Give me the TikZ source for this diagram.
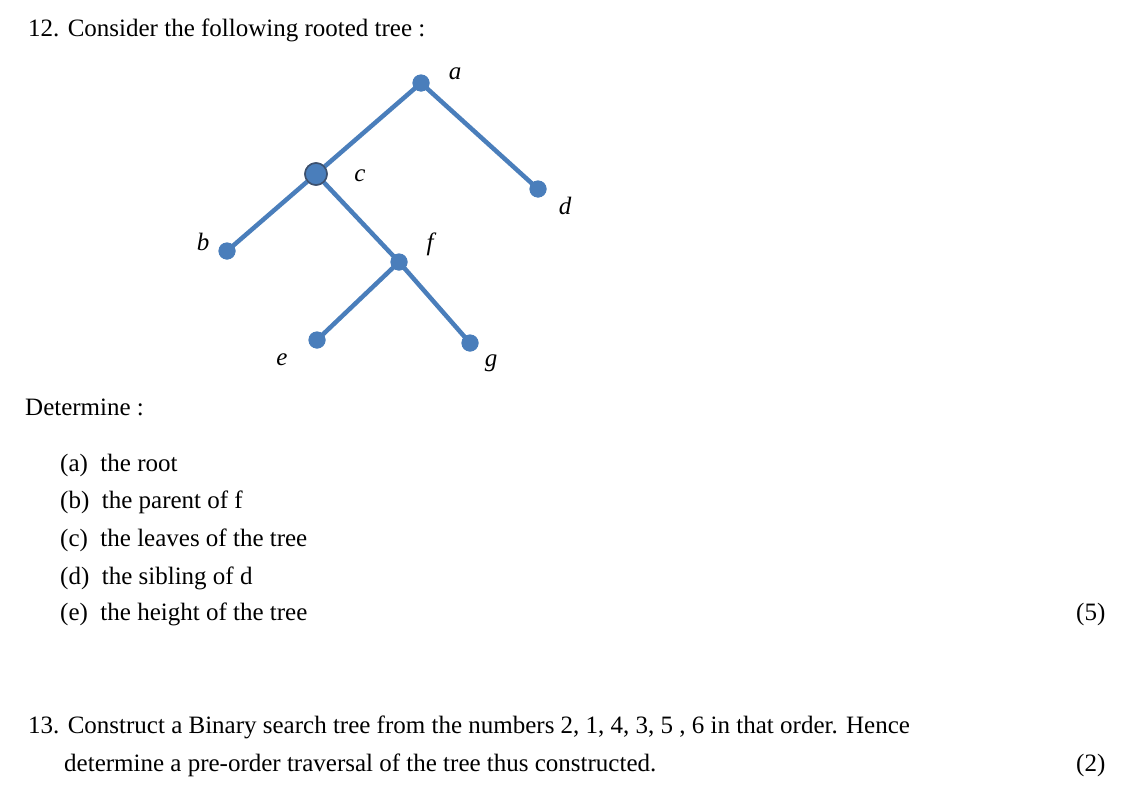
\documentclass[tikz,border=0pt]{standalone}
\usepackage{fontspec}
\setmainfont{Liberation Serif}
\begin{document}
\begin{tikzpicture}[x=1pt,y=-1pt,
  edge/.style={line width=4.5pt,draw={rgb,255:red,74;green,126;blue,187}},
  vert/.style={circle,fill={rgb,255:red,74;green,126;blue,187},minimum size=17pt,inner sep=0pt},
  lab/.style={font=\fontsize{25}{30}\selectfont\itshape},
  txt/.style={anchor=base west,font=\fontsize{25}{30}\selectfont,inner sep=0pt}]
\useasboundingbox (0,0) rectangle (1132,795);
\node[vert] (a) at (421,83) {};
\node[vert,minimum size=22pt,draw={rgb,255:red,60;green,80;blue,110},line width=1.5pt] (c) at (316,174) {};
\node[vert] (d) at (538,189) {};
\node[vert] (b) at (227,251) {};
\node[vert] (f) at (399,262) {};
\node[vert] (e) at (317,340) {};
\node[vert] (g) at (470,343) {};
\begin{scope}[on background layer/.style={}]
\draw[edge] (a.center) -- (c.center);
\draw[edge] (a.center) -- (d.center);
\draw[edge] (c.center) -- (b.center);
\draw[edge] (c.center) -- (f.center);
\draw[edge] (f.center) -- (e.center);
\draw[edge] (f.center) -- (g.center);
\end{scope}
\node[vert] at (a) {};
\node[vert,minimum size=22pt,draw={rgb,255:red,60;green,80;blue,110},line width=1.5pt] at (c) {};
\node[vert] at (d) {};
\node[vert] at (b) {};
\node[vert] at (f) {};
\node[vert] at (e) {};
\node[vert] at (g) {};
\node[lab] (la) at (455,74) {a};
\node[lab] (lc) at (360,176) {c};
\node[lab] (ld) at (565,206) {d};
\node[lab] (lb) at (203,242) {b};
\node[lab] (lf) at (430,244) {f};
\node[lab] (le) at (282,360) {e};
\node[lab] (lg) at (491,363) {g};
\node[txt] (t12) at (28,36) {12. Consider the following rooted tree :};
\node[txt] (det) at (25,415) {Determine :};
\node[txt] (ia) at (60,471) {(a)\ \ the root};
\node[txt] (ib) at (60,508) {(b)\ \ the parent of f};
\node[txt] (ic) at (60,546) {(c)\ \ the leaves of the tree};
\node[txt] (id) at (60,584) {(d)\ \ the sibling of d};
\node[txt] (ie) at (60,620) {(e)\ \ the height of the tree};
\node[txt] (m5) at (1076,620) {(5)};
\node[txt] (t13) at (28,733) {13. Construct a Binary search tree from the numbers 2, 1, 4, 3, 5 , 6 in that order. Hence};
\node[txt] (t13b) at (64,771) {determine a pre-order traversal of the tree thus constructed.};
\node[txt] (m2) at (1076,771) {(2)};
\end{tikzpicture}
\end{document}
